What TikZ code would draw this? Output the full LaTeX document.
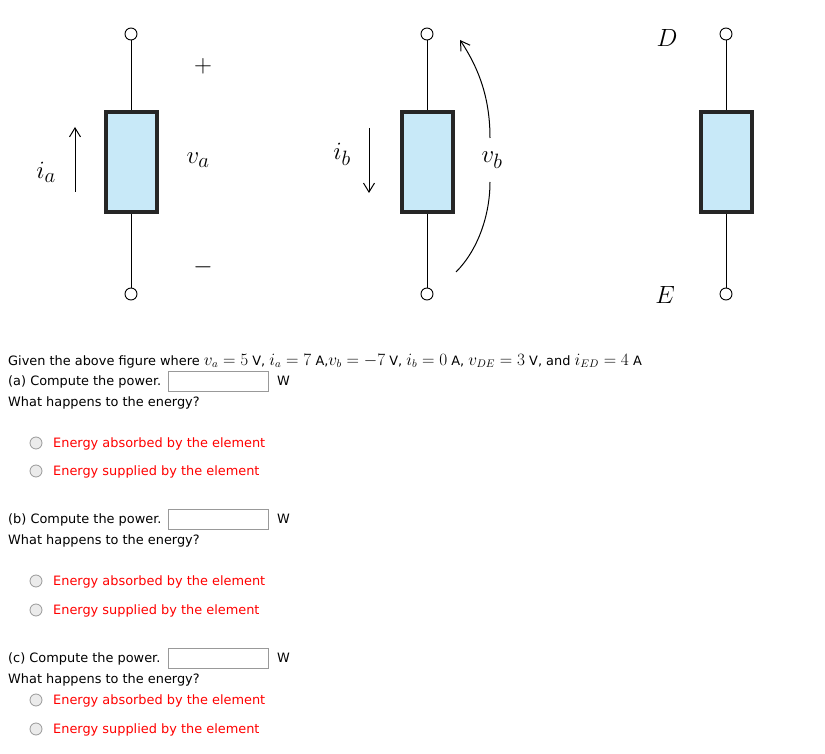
\documentclass[tikz,border=0pt]{standalone}
\usepackage{fontspec}
\setmainfont{DejaVu Sans}
\usetikzlibrary{arrows.meta}
\definecolor{fillb}{HTML}{C8E9F8}
\definecolor{redt}{HTML}{FF0000}
\begin{document}
\begin{tikzpicture}[x=1pt,y=-1pt,
  elem/.style={draw=black!85,line width=4pt,fill=fillb,minimum width=51pt,minimum height=100pt,inner sep=0pt},
  term/.style={circle,draw,fill=white,minimum size=12pt,inner sep=0pt,line width=0.9pt},
  lbl/.style={font=\fontsize{29}{29}\selectfont},
  txt/.style={anchor=base west,font=\fontsize{12.9}{14}\selectfont,inner sep=0pt},
  rtxt/.style={txt,text=redt},
  radio/.style={circle,draw=black!40,fill=black!8,minimum size=12pt,inner sep=0pt,line width=0.8pt},
  ibox/.style={draw=black!40,minimum width=100pt,minimum height=20pt,inner sep=0pt,line width=0.6pt},
  arr/.style={-{Straight Barb[length=9pt,width=11pt]},line width=1pt}]
\useasboundingbox (0,0) rectangle (825,754);
\foreach \n/\x in {a/131,b/427,c/726}{
  \node[elem] (E\n) at (\x,162) {};
  \node[term] (T\n) at (\x,34) {};
  \node[term] (B\n) at (\x,294) {};
  \draw[line width=0.9pt] (T\n) -- (E\n.north);
  \draw[line width=0.9pt] (B\n) -- (E\n.south);
}
\node[lbl] (plus) at (203,66) {$+$};
\node[lbl] (minus) at (203,267) {$-$};
\node[lbl] (va) at (198,160) {$v_a$};
\node[lbl] (ia) at (46,172) {$i_a$};
\coordinate (ia1) at (75,192); \coordinate (ia2) at (75,127);
\draw[arr] (ia1) -- (ia2);
\node[lbl] (ib) at (342,154) {$i_b$};
\coordinate (ib1) at (369,128); \coordinate (ib2) at (369,193);
\draw[arr] (ib1) -- (ib2);
\node[lbl] (vb) at (492,160) {$v_b$};
\coordinate (vs) at (456,272); \coordinate (ve) at (460,40);
\draw[line width=1pt] (vs) .. controls (478,250) and (490,215) .. (490,182);
\draw[arr] (490,138) .. controls (490,100) and (480,70) .. (ve);
\node[lbl] (D) at (667,38) {$D$};
\node[lbl] (E) at (665,295) {$E$};
\newcommand\mm[1]{{\fontsize{16}{16}\selectfont$#1$}}
\node[txt] (t1) at (8,365) {Given the above figure where \mm{v_a=5} V, \mm{i_a=7} A,\mm{v_b=-7} V, \mm{i_b=0} A, \mm{v_{DE}=3} V, and \mm{i_{ED}=4} A};
\foreach \p/\y/\yb in {a/385/381,b/523/519,c/662/658}{
  \node[txt] (cp\p) at (8,\y) {(\p) Compute the power.};
  \node[ibox] (box\p) at (218,\yb) {};
  \node[txt] (w\p) at (277,\y) {W};
}
\foreach \y/\n in {406/1,544/2,683/3}{
  \node[txt] (wh\n) at (8,\y) {What happens to the energy?};
}
\foreach \y/\n in {447/1,585/2,704/3}{
  \node[radio] (ra\n) at (36,\y-4) {};
  \node[rtxt] (rat\n) at (53,\y) {Energy absorbed by the element};
}
\foreach \y/\n in {475/1,614/2,733/3}{
  \node[radio] (rs\n) at (36,\y-4) {};
  \node[rtxt] (rst\n) at (53,\y) {Energy supplied by the element};
}
\end{tikzpicture}
\end{document}
